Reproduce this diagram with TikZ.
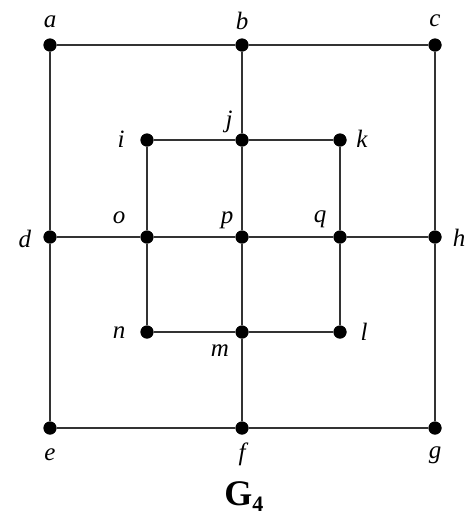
\documentclass[tikz,border=0pt]{standalone}
\usepackage{fontspec}
\setmainfont{Liberation Serif}
\begin{document}
\begin{tikzpicture}[x=1pt,y=-1pt,
  vtx/.style={circle,fill=black,inner sep=0pt,minimum size=13pt},
  lbl/.style={font=\fontsize{25}{27}\selectfont\itshape},
  edge/.style={line width=1.4pt,draw=black!80}]
\useasboundingbox (0,0) rectangle (474,531);
\node[vtx] (a) at (50,45) {};
\node[vtx] (b) at (242,45) {};
\node[vtx] (c) at (435,45) {};
\node[vtx] (i) at (147,140) {};
\node[vtx] (j) at (242,140) {};
\node[vtx] (k) at (340,140) {};
\node[vtx] (d) at (50,237) {};
\node[vtx] (o) at (147,237) {};
\node[vtx] (p) at (242,237) {};
\node[vtx] (q) at (340,237) {};
\node[vtx] (h) at (435,237) {};
\node[vtx] (n) at (147,332) {};
\node[vtx] (m) at (242,332) {};
\node[vtx] (l) at (340,332) {};
\node[vtx] (e) at (50,428) {};
\node[vtx] (f) at (242,428) {};
\node[vtx] (g) at (435,428) {};
\draw[edge] (a) -- (b) -- (c) -- (h) -- (g) -- (f) -- (e) -- (d) -- (a);
\draw[edge] (b) -- (j) -- (p) -- (m) -- (f);
\draw[edge] (d) -- (o) -- (p) -- (q) -- (h);
\draw[edge] (i) -- (j) -- (k) -- (q) -- (l) -- (m) -- (n) -- (o) -- (i);
\foreach \v in {a,b,c,i,j,k,d,o,p,q,h,n,m,l,e,f,g}{\node[vtx] at (\v) {};}
\node[lbl] (la) at (50,22) {a};
\node[lbl] (lb) at (242,21) {b};
\node[lbl] (lc) at (435,21) {c};
\node[lbl] (li) at (121,139) {i};
\node[lbl] (lj) at (229,122) {j};
\node[lbl] (lk) at (362,139) {k};
\node[lbl] (ld) at (25,239) {d};
\node[lbl] (lo) at (119,218) {o};
\node[lbl] (lp) at (227,220) {p};
\node[lbl] (lq) at (320,219) {q};
\node[lbl] (lh) at (459,238) {h};
\node[lbl] (ln) at (119,333) {n};
\node[lbl] (lm) at (220,351) {m};
\node[lbl] (ll) at (364,332) {l};
\node[lbl] (le) at (50,455) {e};
\node[lbl] (lf) at (242,454) {f};
\node[lbl] (lg) at (435,455) {g};
\node[font=\fontsize{36}{38}\selectfont\bfseries] (title) at (244,497) {G\textsubscript{\fontsize{22}{24}\selectfont 4}};
\end{tikzpicture}
\end{document}
